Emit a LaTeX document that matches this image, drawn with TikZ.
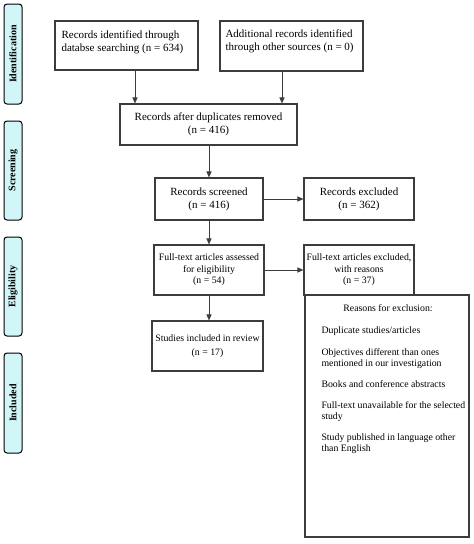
\documentclass[tikz,border=0pt]{standalone}
\usepackage{fontspec}
\setmainfont{Liberation Serif}
\usetikzlibrary{arrows.meta}
\definecolor{sidefill}{HTML}{D2F6F8}
\definecolor{boxline}{HTML}{3C3C3C}
\begin{document}
\begin{tikzpicture}[x=1pt,y=-1pt,
  box/.style={draw=boxline,line width=1.1pt,inner sep=2pt},
  side/.style={draw=black,line width=1pt,fill=sidefill,rounded corners=3pt,minimum width=18pt,inner sep=0pt},
  sidetxt/.style={rotate=90,font=\bfseries\fontsize{10}{12}\selectfont},
  arr/.style={draw=boxline,line width=1pt,-{Triangle[length=6pt,width=5pt]}},
  t10/.style={font=\fontsize{11}{13}\selectfont},
  t9/.style={font=\fontsize{9.8}{11.5}\selectfont}]
\useasboundingbox (0,0) rectangle (474,544);
% side labels
\node[side,minimum height=100pt] (s1) at (13,54) {};
\node[sidetxt] at (s1) {Identification};
\node[side,minimum height=99pt] (s2) at (13,170.5) {};
\node[sidetxt] at (s2) {Screening};
\node[side,minimum height=99pt] (s3) at (13,286.5) {};
\node[sidetxt] at (s3) {Eligibility};
\node[side,minimum height=100pt] (s4) at (13,403) {};
\node[sidetxt] at (s4) {Included};
% boxes
\node[box,minimum width=143pt,minimum height=49pt] (b1) at (126.5,45.5) {};
\node[t10,align=left,anchor=north west] at (58,27) {Records identified through\\databse searching (n = 634)};
\node[box,minimum width=143pt,minimum height=50pt] (b2) at (291.5,46) {};
\node[t10,align=left,anchor=north west] at (222,26) {Additional records identified\\through other sources (n = 0)};
\node[box,minimum width=177pt,minimum height=41pt,t10,align=center] (b3) at (208.5,124.5) {Records after duplicates removed\\(n = 416)};
\node[box,minimum width=108pt,minimum height=42pt,t10,align=center] (b4) at (209,199) {Records screened\\(n = 416)};
\node[box,minimum width=110pt,minimum height=42pt,t10,align=center] (b5) at (359,199) {Records excluded\\(n = 362)};
\node[box,minimum width=110pt,minimum height=50pt,t9,align=center] (b6) at (209,270) {Full-text articles assessed\\for eligibility\\(n = 54)};
\node[box,minimum width=110pt,minimum height=50pt,t9,align=center] (b7) at (359,270) {Full-text articles excluded,\\with reasons\\(n = 37)};
\node[box,minimum width=111pt,minimum height=50pt,t9,align=center] (b8) at (207.5,346) {Studies included in review\\[2pt](n = 17)};
\node[box,minimum width=164pt,minimum height=242pt] (b9) at (387,416) {};
\node[t9,anchor=base] (r0) at (388,311) {Reasons for exclusion:};
\node[t9,anchor=base west,align=left] (r1) at (318,333) {Duplicate studies/articles};
\node[t9,anchor=base west,align=left] (r2) at (318,355) {Objectives different than ones};
\node[t9,anchor=base west,align=left] (r2b) at (318,366) {mentioned in our investigation};
\node[t9,anchor=base west,align=left] (r3) at (318,387) {Books and conference abstracts};
\node[t9,anchor=base west,align=left] (r4) at (318,408) {Full-text unavailable for the selected};
\node[t9,anchor=base west,align=left] (r4b) at (318,419) {study};
\node[t9,anchor=base west,align=left] (r5) at (318,440) {Study published in language other};
\node[t9,anchor=base west,align=left] (r5b) at (318,451) {than English};
% arrows
\coordinate (x1) at (135,0);
\coordinate (x2) at (282,0);
\draw[arr] (b1.south -| x1) -- (b3.north -| x1);
\draw[arr] (b2.south -| x2) -- (b3.north -| x2);
\draw[arr] (b3.south -| b4) -- (b4.north);
\draw[arr] (b4.east) -- (b5.west);
\draw[arr] (b4.south) -- (b6.north);
\draw[arr] (b6.east) -- (b7.west);
\draw[arr] (b6.south) -- (b8.north -| b6);
\end{tikzpicture}
\end{document}
